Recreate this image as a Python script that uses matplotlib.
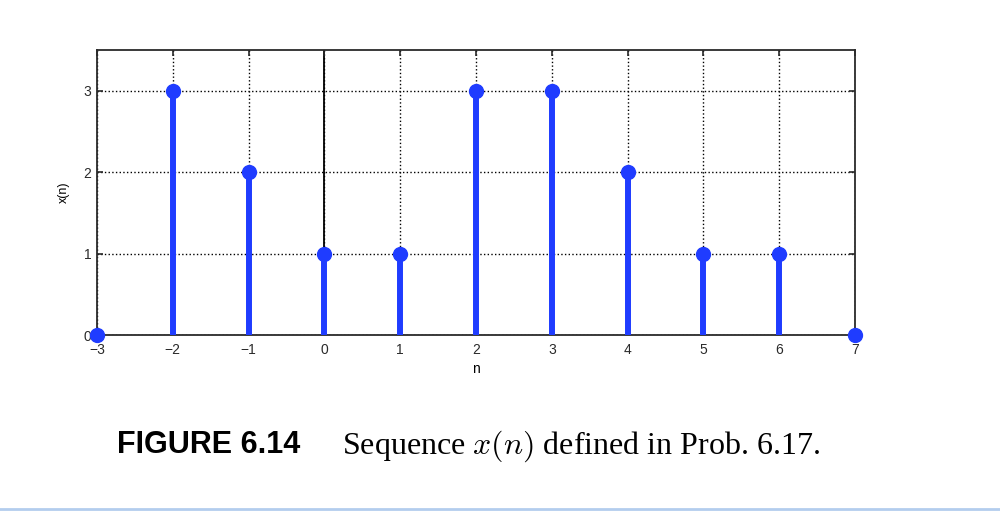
import numpy as np
import matplotlib
matplotlib.use("Agg")
import matplotlib.pyplot as plt
from matplotlib.lines import Line2D

# Sequence x(n) from the figure
n = [-3, -2, -1, 0, 1, 2, 3, 4, 5, 6, 7]
x = [0, 3, 2, 1, 1, 3, 3, 2, 1, 1, 0]
yticks = [0, 1, 2, 3]

plt.rcParams['font.family'] = ['Liberation Sans', 'DejaVu Sans']
plt.rcParams['mathtext.fontset'] = 'cm'

fig = plt.figure(figsize=(10, 5.14), dpi=100)
ax = fig.add_axes([0.097, 0.348, 0.758, 0.5545])

blue = '#1f3cff'
ax.axvline(0, color='black', lw=1.3, zorder=1)
markers, stems, base = ax.stem(n, x, basefmt=' ')
plt.setp(stems, color=blue, linewidth=4.3, zorder=3)
plt.setp(markers, color=blue, markersize=10, zorder=4, clip_on=False)

ax.set_xlim(-3, 7)
ax.set_ylim(0, 3.5)
ax.set_xticks(n)
ax.set_xticklabels([str(v).replace('-', '\u2212') for v in n])
ax.set_yticks(yticks)
ax.grid(True, linestyle=':', color='black', linewidth=1.0)
ax.tick_params(direction='in', length=4, width=1.2, top=True, right=True,
               labelsize=10, colors='#2a2a2a')
ax.tick_params(axis='x', pad=6)
ax.tick_params(axis='y', pad=4)
for s in ax.spines.values():
    s.set_linewidth(1.3)
    s.set_color('#2a2a2a')

ax.set_xlabel('n', fontsize=10, labelpad=3)
ax.set_ylabel('x(n)', fontsize=9, labelpad=10)

# caption
fig.text(0.117, 0.118, 'FIGURE 6.14', fontsize=22, fontweight='bold',
         family='Liberation Sans', va='baseline')
fig.text(0.342, 0.118, 'Sequence $x(n)$ defined in Prob. 6.17.', fontsize=23,
         family='Liberation Serif', va='baseline')

fig.add_artist(Line2D([0, 1], [0.0097, 0.0097], color='#b3cdee', lw=2,
                      transform=fig.transFigure))

fig.savefig('out.png', dpi=100)
